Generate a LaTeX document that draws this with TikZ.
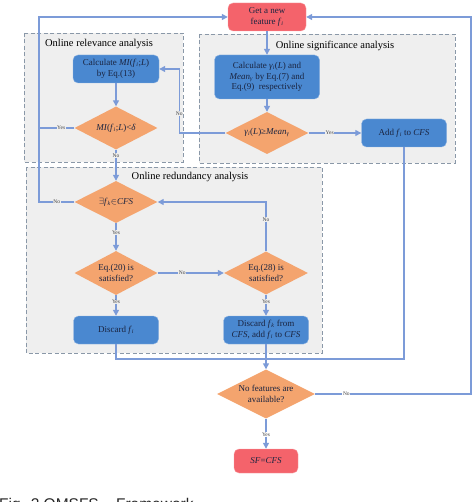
\documentclass[tikz,border=0pt]{standalone}
\usepackage{fontspec}
\setmainfont{Liberation Serif}
\newfontfamily\capfont{Liberation Sans}
\usetikzlibrary{shapes.geometric,arrows.meta}
\definecolor{procblue}{HTML}{4A88D0}
\definecolor{procedge}{HTML}{8DB3E2}
\definecolor{decorange}{HTML}{F4A46E}
\definecolor{termred}{HTML}{F4636B}
\definecolor{termedge}{HTML}{F8A0A4}
\definecolor{linkblue}{HTML}{7C9BD8}
\definecolor{boxfill}{HTML}{EFEFEF}
\definecolor{boxedge}{HTML}{8A98A8}
\definecolor{inktext}{HTML}{1A2440}
% italic symbol with italic subscript
\newcommand{\isub}[2]{\textit{#1}\textsubscript{\textit{#2}}}
\tikzset{
  nodefont/.style={font=\fontsize{9}{10.8}\selectfont},
  proc/.style={nodefont, rectangle, rounded corners=5pt, draw=procedge, fill=procblue,
    text=inktext, align=center, inner sep=1pt, minimum width=85pt, minimum height=28pt},
  term/.style={proc, draw=termedge, fill=termred},
  decide/.style={nodefont, diamond, fill=decorange, text=inktext, align=center,
    inner sep=0pt, aspect=2, minimum width=83pt, minimum height=43pt},
  group/.style={draw=boxedge, dashed, dash pattern=on 4pt off 2.5pt, fill=boxfill, line width=0.8pt},
  grouptitle/.style={font=\fontsize{10.5}{12}\selectfont, text=black, inner sep=0pt},
  link/.style={draw=linkblue, line width=1.3pt},
  flow/.style={link, -{Triangle[length=6pt,width=6pt]}},
  lab/.style={font=\fontsize{5.5}{6}\selectfont, text=black!75, fill=boxfill, inner sep=0.6pt}
}
\begin{document}
\begin{tikzpicture}[x=1pt,y=-1pt]
\useasboundingbox (0,0) rectangle (474,502);
% analysis groups
\draw[group] (24,33) rectangle (183,162);
\draw[group] (199,34) rectangle (455,163);
\draw[group] (26,167) rectangle (322,353);
\node[grouptitle] (relT) at (99,44) {Online relevance analysis};
\node[grouptitle] (sigT) at (335,46) {Online significance analysis};
\node[grouptitle] (redT) at (190,177) {Online redundancy analysis};
% nodes
\node[term, minimum width=78pt] (start) at (267,17) {Get a new\\feature \isub{f}{i}};
\node[proc, minimum width=86pt] (calcMI) at (116,69) {Calculate \textit{MI}(\isub{f}{i};\textit{L})\\by Eq.(13)};
\node[decide] (miDia) at (116,128) {\textit{MI}(\isub{f}{i};\textit{L})<\textit{δ}};
\node[proc, minimum width=105pt, minimum height=44pt] (calcG) at (267,77)
  {Calculate \isub{γ}{i}(\textit{L}) and\\\isub{Mean}{γ} by Eq.(7) and\\Eq.(9)\ \ respectively};
\node[decide, minimum height=42pt] (gDia) at (267,133) {\isub{γ}{i}(\textit{L})≥\isub{Mean}{γ}};
\node[proc] (add) at (404,133) {Add \isub{f}{i} to \textit{CFS}};
\node[decide, minimum height=42pt] (exDia) at (116,202) {$\exists$\isub{f}{k}$\in$\textit{CFS}};
\node[decide, minimum height=44pt] (eq20) at (116,273) {Eq.(20) is\\satisfied?};
\node[decide, minimum width=84pt] (eq28) at (266,273) {Eq.(28) is\\satisfied?};
\node[proc] (discI) at (116,330) {Discard \isub{f}{i}};
\node[proc] (discK) at (266,330) {Discard \isub{f}{k} from\\\textit{CFS}, add \isub{f}{i} to \textit{CFS}};
\node[decide, minimum width=98pt, minimum height=49pt] (finDia) at (266,394) {No features are\\available?};
\node[term, minimum width=64pt, minimum height=24pt] (sf) at (266,461) {\textit{SF}=\textit{CFS}};
% rails and merge point
\coordinate (lrail) at (39,17);
\coordinate (rrail) at (471,17);
\coordinate (merge) at (266,359);
% connectors
\draw[flow] (start) -- (calcG);
\draw[flow] (calcG) -- (gDia);
\draw[flow] (gDia.east) -- node[lab, pos=0.4]{Yes} (add.west);
\draw[flow] (gDia.west) -- ++(-46,0) |- node[lab, pos=0.15]{No} (calcMI.east);
\draw[flow] (calcMI) -- (miDia);
\draw[link] (miDia.west) -- node[lab, pos=0.37]{Yes} (miDia.west -| lrail);
\draw[flow] (miDia.south) -- node[lab, pos=0.2]{No} (exDia.north);
\draw[flow] (exDia.west) -| node[lab, pos=0.25]{No} (lrail) -- (start.west);
\draw[flow] (exDia.south) -- node[lab, pos=0.35]{Yes} (eq20.north);
\draw[flow] (eq20.east) -- node[lab, pos=0.37]{No} (eq28.west);
\draw[flow] (eq28.north) |- node[lab, pos=0.32]{No} (exDia.east);
\draw[flow] (eq20.south) -- node[lab, pos=0.33]{Yes} (discI.north);
\draw[flow] (eq28.south) -- node[lab, pos=0.33]{Yes} (discK.north);
\draw[link] (add.south) |- (merge) -| (discI.south);
\draw[flow] (discK.south) -- (finDia.north);
\draw[flow] (finDia.east) -| node[lab, fill=white, pos=0.1]{No} (rrail) -- (start.east);
\draw[flow] (finDia.south) -- node[lab, fill=white, pos=0.53]{Yes} (sf.north);
% caption, cut by the page edge
\node[anchor=base west, inner sep=0pt, text=black!85, font=\capfont\fontsize{15.5}{18}\selectfont]
  (cap) at (-1,509) {Fig. 2 OMSFS – Framework};
\end{tikzpicture}
\end{document}
